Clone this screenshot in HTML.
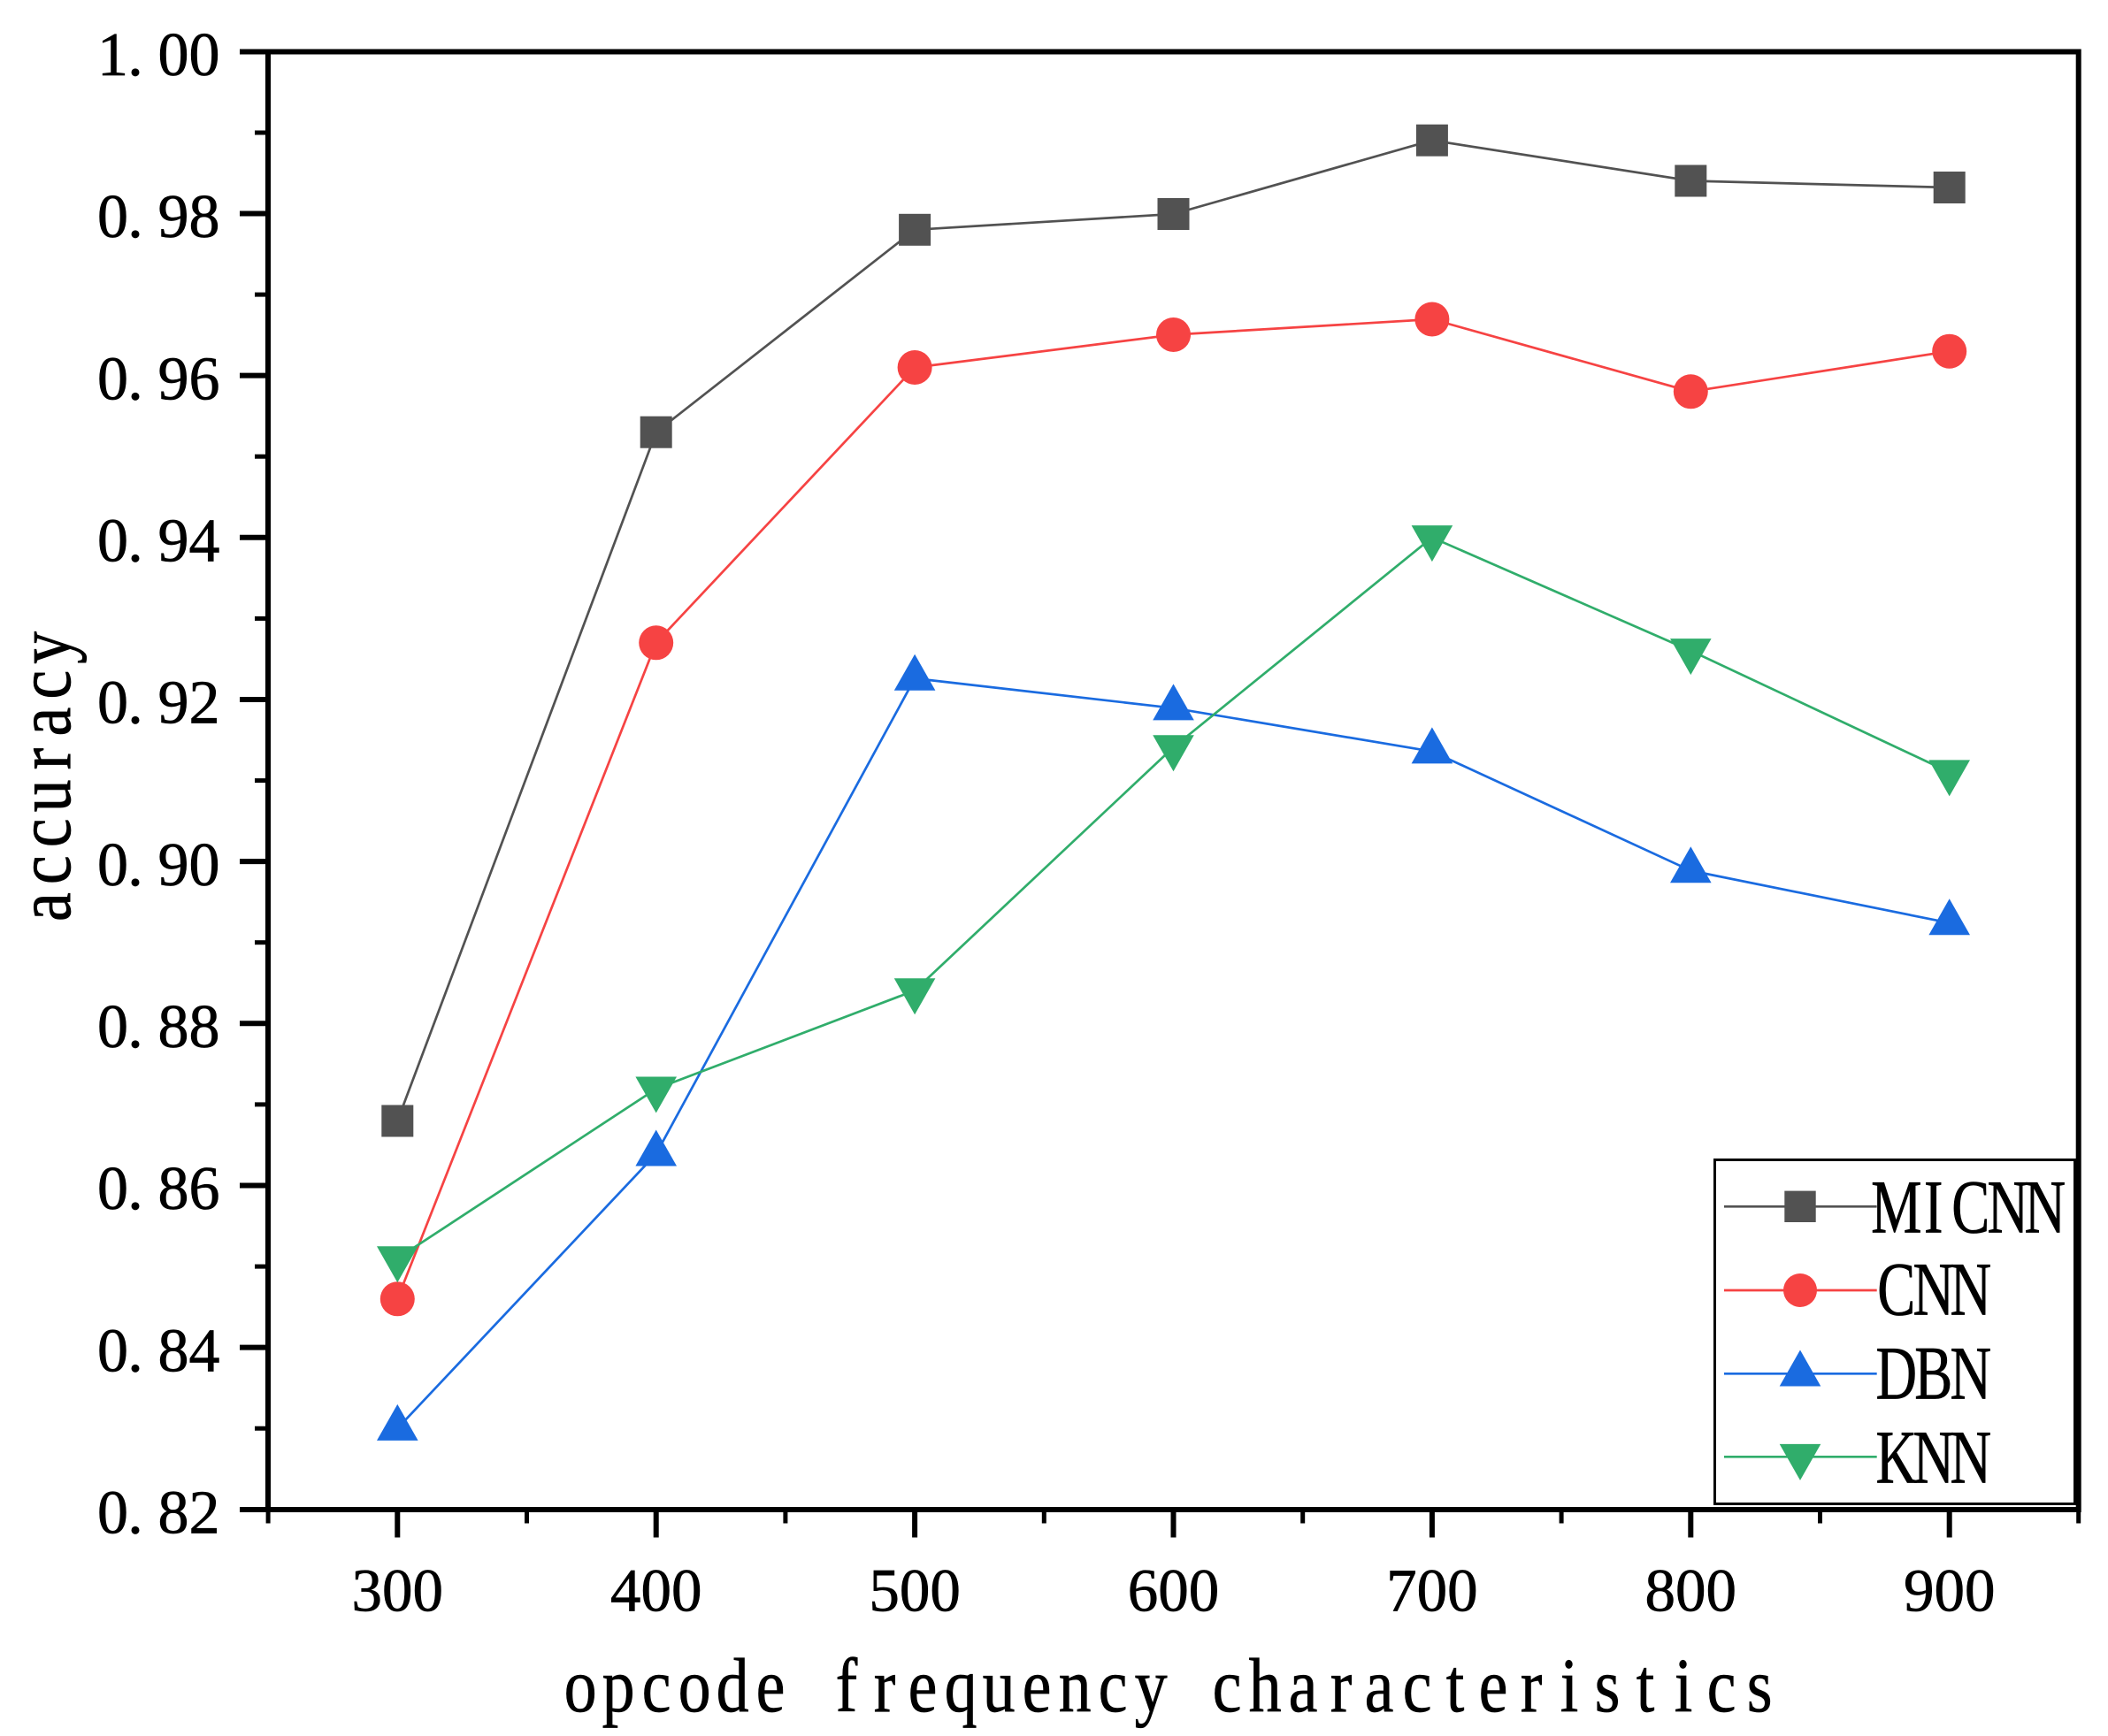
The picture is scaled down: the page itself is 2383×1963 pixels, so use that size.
<!DOCTYPE html>
<html>
<head>
<meta charset="utf-8">
<style>
html,body{margin:0;padding:0;background:#fff;}
svg{display:block;}
text{font-family:"Liberation Serif","Noto Serif CJK SC",serif;fill:#000;stroke:#000;stroke-width:0.7;}
</style>
</head>
<body>
<svg width="2383" height="1963" viewBox="0 0 2383 1963" xmlns="http://www.w3.org/2000/svg">
<defs>
<path id="up" d="M0,-27.3 L23.3,13.7 L-23.3,13.7 Z"/>
<path id="dn" d="M-23.3,-13.7 L23.3,-13.7 L0,27.3 Z"/>
</defs>
<rect x="0" y="0" width="2383" height="1963" fill="#fff"/>

<!-- series lines -->
<g fill="none" stroke-width="2.7" stroke-linejoin="round">
<polyline stroke="#525252" points="449.3,1267.5 741.7,488.7 1034.1,259.8 1326.5,242 1618.9,158.7 1911.3,204.5 2203.7,212"/>
<polyline stroke="#F64343" points="449.3,1468.8 741.7,726.8 1034.1,415.5 1326.5,378.5 1618.9,361 1911.3,442.8 2203.7,397.2"/>
<polyline stroke="#1A6BE0" points="449.3,1615.2 741.7,1304.8 1034.1,767.1 1326.5,800.7 1618.9,849.7 1911.3,984.5 2203.7,1043.6"/>
<polyline stroke="#30AD6B" points="449.3,1423 741.7,1231.2 1034.1,1120 1326.5,845 1618.9,607.8 1911.3,735.8 2203.7,873.1"/>
</g>

<!-- markers -->
<g fill="#525252">
<rect x="431.3" y="1249.5" width="36" height="36"/>
<rect x="723.7" y="470.7" width="36" height="36"/>
<rect x="1016.1" y="241.8" width="36" height="36"/>
<rect x="1308.5" y="224" width="36" height="36"/>
<rect x="1600.9" y="140.7" width="36" height="36"/>
<rect x="1893.3" y="186.5" width="36" height="36"/>
<rect x="2185.7" y="194" width="36" height="36"/>
</g>
<g fill="#F64343">
<circle cx="449.3" cy="1468.8" r="19.5"/>
<circle cx="741.7" cy="726.8" r="19.5"/>
<circle cx="1034.1" cy="415.5" r="19.5"/>
<circle cx="1326.5" cy="378.5" r="19.5"/>
<circle cx="1618.9" cy="361" r="19.5"/>
<circle cx="1911.3" cy="442.8" r="19.5"/>
<circle cx="2203.7" cy="397.2" r="19.5"/>
</g>
<g fill="#1A6BE0">
<use href="#up" x="449.3" y="1615.2"/>
<use href="#up" x="741.7" y="1304.8"/>
<use href="#up" x="1034.1" y="767.1"/>
<use href="#up" x="1326.5" y="800.7"/>
<use href="#up" x="1618.9" y="849.7"/>
<use href="#up" x="1911.3" y="984.5"/>
<use href="#up" x="2203.7" y="1043.6"/>
</g>
<g fill="#30AD6B">
<use href="#dn" x="449.3" y="1423"/>
<use href="#dn" x="741.7" y="1231.2"/>
<use href="#dn" x="1034.1" y="1120"/>
<use href="#dn" x="1326.5" y="845"/>
<use href="#dn" x="1618.9" y="607.8"/>
<use href="#dn" x="1911.3" y="735.8"/>
<use href="#dn" x="2203.7" y="873.1"/>
</g>

<!-- frame -->
<rect x="303" y="58.5" width="2046.7" height="1648.5" fill="none" stroke="#000" stroke-width="6"/>

<!-- y ticks -->
<g stroke="#000" stroke-width="6">
<line x1="271" y1="58.5" x2="303" y2="58.5"/>
<line x1="271" y1="241.5" x2="303" y2="241.5"/>
<line x1="271" y1="424.6" x2="303" y2="424.6"/>
<line x1="271" y1="607.8" x2="303" y2="607.8"/>
<line x1="271" y1="791" x2="303" y2="791"/>
<line x1="271" y1="974.1" x2="303" y2="974.1"/>
<line x1="271" y1="1157.3" x2="303" y2="1157.3"/>
<line x1="271" y1="1340.5" x2="303" y2="1340.5"/>
<line x1="271" y1="1523.6" x2="303" y2="1523.6"/>
<line x1="271" y1="1707" x2="303" y2="1707"/>
</g>
<g stroke="#000" stroke-width="5">
<line x1="288" y1="150" x2="303" y2="150"/>
<line x1="288" y1="333.1" x2="303" y2="333.1"/>
<line x1="288" y1="516.2" x2="303" y2="516.2"/>
<line x1="288" y1="699.4" x2="303" y2="699.4"/>
<line x1="288" y1="882.6" x2="303" y2="882.6"/>
<line x1="288" y1="1065.7" x2="303" y2="1065.7"/>
<line x1="288" y1="1248.9" x2="303" y2="1248.9"/>
<line x1="288" y1="1432.1" x2="303" y2="1432.1"/>
<line x1="288" y1="1615.2" x2="303" y2="1615.2"/>
</g>

<!-- x ticks -->
<g stroke="#000" stroke-width="6">
<line x1="449.3" y1="1707" x2="449.3" y2="1738.5"/>
<line x1="741.7" y1="1707" x2="741.7" y2="1738.5"/>
<line x1="1034.1" y1="1707" x2="1034.1" y2="1738.5"/>
<line x1="1326.5" y1="1707" x2="1326.5" y2="1738.5"/>
<line x1="1618.9" y1="1707" x2="1618.9" y2="1738.5"/>
<line x1="1911.3" y1="1707" x2="1911.3" y2="1738.5"/>
<line x1="2203.7" y1="1707" x2="2203.7" y2="1738.5"/>
</g>
<g stroke="#000" stroke-width="5">
<line x1="303.1" y1="1707" x2="303.1" y2="1722.5"/>
<line x1="595.5" y1="1707" x2="595.5" y2="1722.5"/>
<line x1="887.9" y1="1707" x2="887.9" y2="1722.5"/>
<line x1="1180.3" y1="1707" x2="1180.3" y2="1722.5"/>
<line x1="1472.7" y1="1707" x2="1472.7" y2="1722.5"/>
<line x1="1765.1" y1="1707" x2="1765.1" y2="1722.5"/>
<line x1="2057.5" y1="1707" x2="2057.5" y2="1722.5"/>
<line x1="2349.7" y1="1707" x2="2349.7" y2="1722.5"/>
</g>

<!-- y tick labels -->
<g font-size="70">
<text x="110 144.2 178.5 213.5" y="85">1.00</text>
<text x="110 144.2 178.5 213.5" y="268.2">0.98</text>
<text x="110 144.2 178.5 213.5" y="451.3">0.96</text>
<text x="110 144.2 178.5 213.5" y="634.5">0.94</text>
<text x="110 144.2 178.5 213.5" y="817.7">0.92</text>
<text x="110 144.2 178.5 213.5" y="1000.8">0.90</text>
<text x="110 144.2 178.5 213.5" y="1184">0.88</text>
<text x="110 144.2 178.5 213.5" y="1367.2">0.86</text>
<text x="110 144.2 178.5 213.5" y="1550.3">0.84</text>
<text x="110 144.2 178.5 213.5" y="1733.5">0.82</text>
</g>

<!-- x tick labels -->
<g font-size="69" text-anchor="middle">
<text x="449.3" y="1821.7">300</text>
<text x="741.7" y="1821.7">400</text>
<text x="1034.1" y="1821.7">500</text>
<text x="1326.5" y="1821.7">600</text>
<text x="1618.9" y="1821.7">700</text>
<text x="1911.3" y="1821.7">800</text>
<text x="2203.7" y="1821.7">900</text>
</g>

<!-- axis titles -->
<text font-size="87" transform="scale(0.85,1)" y="1935" x="750.1 800.7 853.7 901.9 952.5 1005.5 1064.4 1111.4 1162.0 1207.8 1256.0 1306.6 1359.6 1407.8 1460.8 1509.0 1570.3 1612.5 1660.7 1713.7 1769.1 1814.9 1865.5 1923.3 1966.7 2022.1 2075.0 2120.8 2176.2 2226.8 2270.2 2323.2">opcode frequency characteristics</text>

<text font-size="87" transform="translate(79,879) rotate(-90) scale(0.85,1)" y="0" x="-191.8 -142.5 -93.2 -46.4 10.2 54.7 103.9 150.8">accuracy</text>

<!-- legend -->
<rect x="1938.5" y="1311.5" width="407" height="389" fill="#fff" stroke="#000" stroke-width="3"/>
<g stroke-width="2.7">
<line x1="1949" y1="1364.3" x2="2121.7" y2="1364.3" stroke="#525252"/>
<line x1="1949" y1="1459" x2="2121.7" y2="1459" stroke="#F64343"/>
<line x1="1949" y1="1553.3" x2="2121.7" y2="1553.3" stroke="#1A6BE0"/>
<line x1="1949" y1="1647.3" x2="2121.7" y2="1647.3" stroke="#30AD6B"/>
</g>
<rect x="2017.3" y="1346.6" width="35.4" height="35.4" fill="#525252"/>
<circle cx="2035" cy="1459" r="19" fill="#F64343"/>
<use href="#up" x="2035" y="1553.8" fill="#1A6BE0"/>
<use href="#dn" x="2035" y="1646.6" fill="#30AD6B"/>
<g font-size="86">
<text transform="scale(0.75,1)" y="1393.3" x="2820.1 2900.0 2941.6 2995.3 3051.3">MICNN</text>
<text transform="scale(0.75,1)" y="1486.7" x="2829.6 2883.3 2939.3">CNN</text>
<text transform="scale(0.75,1)" y="1581.7" x="2827.3 2885.6 2939.3">DBN</text>
<text transform="scale(0.75,1)" y="1676.7" x="2827.3 2883.3 2939.3">KNN</text>
</g>
</svg>
</body>
</html>
